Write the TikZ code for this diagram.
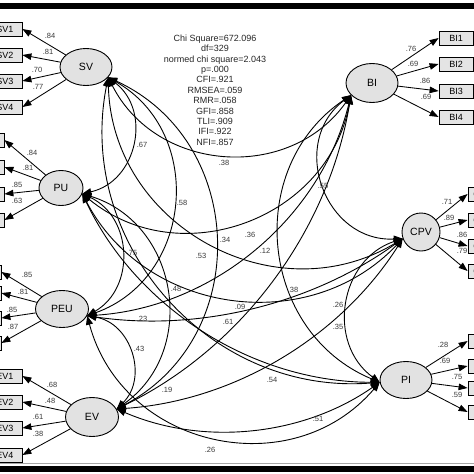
\documentclass[tikz,border=0pt]{standalone}
\usepackage{fontspec}
\setmainfont{Liberation Sans}
\usetikzlibrary{shapes.geometric,arrows.meta,calc}
\definecolor{latfill}{HTML}{E2E2E2}
\definecolor{boxfill}{HTML}{E4E4E4}
\definecolor{labgray}{HTML}{3A3A3A}
\tikzset{
 latent/.style={ellipse,draw=black,line width=0.9pt,fill=latfill,inner sep=0pt,font=\fontsize{10.5}{12}\selectfont},
 obsbox/.style={rectangle,draw=black,line width=0.8pt,fill=boxfill,minimum width=34pt,minimum height=14pt,inner sep=0pt,font=\fontsize{9}{10}\selectfont},
 loadarrow/.style={draw=black,line width=0.85pt,-{Triangle[length=9pt,width=6.5pt]}},
 covline/.style={draw=black,line width=0.9pt,{Triangle[length=9pt,width=7pt]}-{Triangle[length=9pt,width=7pt]}},
 lab/.style={font=\fontsize{7.5}{8}\selectfont,text=labgray,inner sep=0pt},
}
\newcommand{\covarc}[3]{%
  \draw[covline] let \p1=(#1), \p2=(#2), \p3=(#3),
    \n1={veclen(\x2-\x1,\y2-\y1)},
    \n2={((\x2-\x1)/10*(\y3-\y1)/10-(\y2-\y1)/10*(\x3-\x1)/10)/\n1*100},
    \n3={2*atan(2*\n2/\n1)},
    \n4={0.6667*tan(\n3/2)/sin(\n3)/0.3915}
  in (\p1) to[bend left=\n3,looseness=\n4] (\p2);}
\begin{document}
\begin{tikzpicture}[x=1pt,y=-1pt]
\useasboundingbox (0,0) rectangle (474,474);
\clip (0,0) rectangle (474,474);
\fill[white] (0,0) rectangle (474,474);
% frame bars
\fill[black] (0,2.5) rectangle (474,8.5);
\fill[black] (0,466) rectangle (474,472);
\draw[black!35,line width=0.8pt] (0,463.8) -- (474,463.8);

% latent variables
\node[latent,minimum width=52pt,minimum height=37pt] (SV) at (86,67) {SV};
\node[latent,minimum width=44pt,minimum height=35pt] (PU) at (61,188) {PU};
\node[latent,minimum width=53pt,minimum height=37pt] (PEU) at (62,309) {PEU};
\node[latent,minimum width=53pt,minimum height=39pt] (EV) at (92,417) {EV};
\node[latent,minimum width=52pt,minimum height=39pt] (BI) at (372,83) {BI};
\node[latent,minimum width=38pt,minimum height=38pt] (CPV) at (421,232) {CPV};
\node[latent,minimum width=52pt,minimum height=37pt] (PI) at (406,380) {PI};

% observed boxes
\node[obsbox] (sv1) at (5,29) {SV1};
\node[obsbox] (sv2) at (5,55) {SV2};
\node[obsbox] (sv3) at (5,81) {SV3};
\node[obsbox] (sv4) at (5,107) {SV4};
\node[obsbox] (pu1) at (-13,140) {PU1};
\node[obsbox] (pu2) at (-13,167) {PU2};
\node[obsbox] (pu3) at (-13,194) {PU3};
\node[obsbox] (pu4) at (-13,220) {PU4};
\node[obsbox] (peu1) at (-16,272) {PEU1};
\node[obsbox] (peu2) at (-16,293) {PEU2};
\node[obsbox] (peu3) at (-16,318) {PEU3};
\node[obsbox] (peu4) at (-16,343) {PEU4};
\node[obsbox] (ev1) at (5,376) {EV1};
\node[obsbox] (ev2) at (5,402) {EV2};
\node[obsbox] (ev3) at (5,428) {EV3};
\node[obsbox] (ev4) at (5,455) {EV4};
\node[obsbox] (bi1) at (456,38) {BI1};
\node[obsbox] (bi2) at (456,64) {BI2};
\node[obsbox] (bi3) at (456,91) {BI3};
\node[obsbox] (bi4) at (456,117) {BI4};
\node[obsbox] (cpv1) at (485,194) {CPV1};
\node[obsbox] (cpv2) at (485,220) {CPV2};
\node[obsbox] (cpv3) at (485,246) {CPV3};
\node[obsbox] (cpv4) at (485,271) {CPV4};
\node[obsbox] (pi1) at (485,341) {PI1};
\node[obsbox] (pi2) at (485,366) {PI2};
\node[obsbox] (pi3) at (485,388) {PI3};
\node[obsbox] (pi4) at (485,412) {PI4};

% loadings
\foreach \a/\b in {SV/sv1,SV/sv2,SV/sv3,SV/sv4,PU/pu1,PU/pu2,PU/pu3,PU/pu4,
  PEU/peu1,PEU/peu2,PEU/peu3,PEU/peu4,EV/ev1,EV/ev2,EV/ev3,EV/ev4}
  \draw[loadarrow] (\a) -- (\b.east);
\foreach \a/\b in {BI/bi1,BI/bi2,BI/bi3,BI/bi4,CPV/cpv1,CPV/cpv2,CPV/cpv3,CPV/cpv4,
  PI/pi1,PI/pi2,PI/pi3,PI/pi4}
  \draw[loadarrow] (\a) -- (\b.west);

% loading labels
\node[lab] (l1) at (50,36) {.84};
\node[lab] (l2) at (48,52) {.81};
\node[lab] (l3) at (37,70) {.70};
\node[lab] (l4) at (38,87) {.77};
\node[lab] (l5) at (32,153) {.84};
\node[lab] (l6) at (28,168) {.81};
\node[lab] (l7) at (17,185) {.85};
\node[lab] (l8) at (17,201) {.63};
\node[lab] (l9) at (27,275) {.85};
\node[lab] (l10) at (23,292) {.81};
\node[lab] (l11) at (12,310) {.85};
\node[lab] (l12) at (13,327) {.87};
\node[lab] (l13) at (52,385) {.68};
\node[lab] (l14) at (50,401) {.48};
\node[lab] (l15) at (38,417) {.61};
\node[lab] (l16) at (38,434) {.38};
\node[lab] (l17) at (411,49) {.76};
\node[lab] (l18) at (413,64) {.69};
\node[lab] (l19) at (425,81) {.86};
\node[lab] (l20) at (426,97) {.69};
\node[lab] (l21) at (447,202) {.71};
\node[lab] (l22) at (449,218) {.89};
\node[lab] (l23) at (462,235) {.86};
\node[lab] (l24) at (462,251) {.79};
\node[lab] (l25) at (443,345) {.28};
\node[lab] (l26) at (445,361) {.69};
\node[lab] (l27) at (457,377) {.75};
\node[lab] (l28) at (457,395) {.59};

% covariance anchors
\coordinate (svA) at (SV.-25);
\coordinate (puA) at (PU.-15);
\coordinate (peuA) at (PEU.-15);
\coordinate (evA) at (EV.18);
\coordinate (biA) at (BI.210);
\coordinate (cpvA) at (CPV.200);
\coordinate (piA) at (PI.185);

% covariances
\covarc{svA}{puA}{134,136}
\covarc{svA}{peuA}{174,205}
\covarc{svA}{evA}{216,255}
\covarc{puA}{peuA}{122,256}
\covarc{puA}{evA}{168,300}
\covarc{peuA}{evA}{132,358}
\covarc{biA}{cpvA}{320,175}
\covarc{cpvA}{piA}{345,318}
\covarc{biA}{piA}{280,250}
\covarc{svA}{biA}{225,155}
\covarc{puA}{biA}{210,234}
\covarc{svA}{cpvA}{255,268}
\covarc{puA}{cpvA}{240,300}
\covarc{peuA}{cpvA}{228,314}
\covarc{peuA}{biA}{262,243}
\covarc{evA}{biA}{265,290}
\covarc{evA}{cpvA}{285,355}
\covarc{svA}{piA}{175,305}
\covarc{puA}{piA}{262,368}
\covarc{peuA}{piA}{225,440}
\covarc{evA}{piA}{250,430}

% covariance labels
\node[lab] (c1) at (142,145) {.67};
\node[lab] (c2) at (182,203) {.58};
\node[lab] (c3) at (201,256) {.53};
\node[lab] (c4) at (132,253) {.75};
\node[lab] (c5) at (176,289) {.48};
\node[lab] (c6) at (139,349) {.43};
\node[lab] (c7) at (323,186) {.55};
\node[lab] (c8) at (338,327) {.35};
\node[lab] (c9) at (293,290) {.38};
\node[lab] (c10) at (224,163) {.38};
\node[lab] (c11) at (250,235) {.36};
\node[lab] (c12) at (225,240) {.34};
\node[lab] (c13) at (240,307) {.09};
\node[lab] (c14) at (228,322) {.61};
\node[lab] (c15) at (265,251) {.12};
\node[lab] (c16) at (167,390) {.19};
\node[lab] (c17) at (338,305) {.26};
\node[lab] (c18) at (272,380) {.54};
\node[lab] (c19) at (318,419) {.51};
\node[lab] (c20) at (210,450) {.26};
\node[lab] (c21) at (142,319) {.23};

% fit statistics
\node[align=center,font=\fontsize{9}{10.4}\selectfont,text=black!85,inner sep=0pt] (fit) at (215,90)
 {Chi Square=672.096\\df=329\\normed chi square=2.043\\p=.000\\CFI=.921\\RMSEA=.059\\RMR=.058\\GFI=.858\\TLI=.909\\IFI=.922\\NFI=.857};
\end{tikzpicture}
\end{document}
